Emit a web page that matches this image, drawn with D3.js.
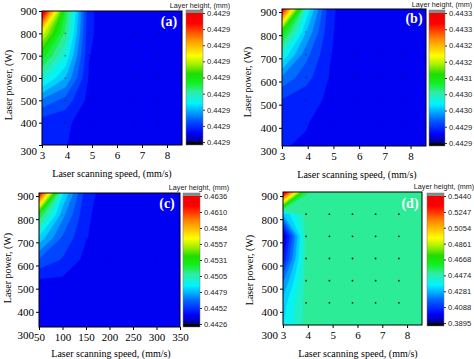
<!DOCTYPE html>
<html><head><meta charset="utf-8">
<script src="https://cdn.jsdelivr.net/npm/d3@7"></script>
<style>
html,body{margin:0;padding:0;background:#fff;}
svg{display:block;}
</style></head><body>
<svg id="chart" width="474" height="359"></svg>
<script>
// ---------------- data ----------------
const powers = [900, 800, 700, 600, 500, 400, 300];          // grid rows (W)
const speedsMm = [3, 3.93, 4.87, 5.8, 6.73, 7.67, 8.6];       // grid cols (mm/s) panels a,b,d
const speedsC = [50, 100, 150, 200, 250, 300, 350];           // grid cols (mm/s) panel c
const speedTicks = [3, 4, 5, 6, 7, 8];
const speedTicksC = [50, 100, 150, 200, 250, 300, 350];
const powerTicks = [300, 400, 500, 600, 700, 800, 900];

const heightA = [
  [0.44295, 0.442895, 0.442859, 0.442856, 0.442856, 0.442856, 0.442856],
  [0.442915, 0.44289, 0.442859, 0.442856, 0.442856, 0.442856, 0.442856],
  [0.442898, 0.442883, 0.4428585, 0.442856, 0.442856, 0.442856, 0.442856],
  [0.442885, 0.442875, 0.442858, 0.442856, 0.442856, 0.442856, 0.442856],
  [0.44287, 0.442865, 0.442857, 0.442856, 0.442856, 0.442856, 0.442856],
  [0.44286, 0.442859, 0.4428565, 0.442856, 0.442856, 0.442856, 0.442856],
  [0.442859, 0.4428585, 0.4428565, 0.442856, 0.442856, 0.442856, 0.442856]
];
const heightB = [
  [0.44328, 0.443032, 0.442936, 0.442924, 0.442924, 0.442924, 0.442924],
  [0.4431, 0.443, 0.4429352, 0.442924, 0.442924, 0.442924, 0.442924],
  [0.443032, 0.442972, 0.442934, 0.442924, 0.442924, 0.442924, 0.442924],
  [0.44298, 0.442956, 0.442932, 0.442924, 0.442924, 0.442924, 0.442924],
  [0.442948, 0.44294, 0.44293, 0.442924, 0.442924, 0.442924, 0.442924],
  [0.442936, 0.442934, 0.442928, 0.442924, 0.442924, 0.442924, 0.442924],
  [0.442934, 0.442932, 0.442928, 0.442924, 0.442924, 0.442924, 0.442924]
];
const heightC = [
  [0.46255, 0.4489, 0.4447, 0.44386, 0.44386, 0.44386, 0.44386],
  [0.45205, 0.44722, 0.44449, 0.44386, 0.44386, 0.44386, 0.44386],
  [0.44848, 0.44596, 0.44439, 0.44386, 0.44386, 0.44386, 0.44386],
  [0.44596, 0.44512, 0.44407, 0.44386, 0.44386, 0.44386, 0.44386],
  [0.44407, 0.44407, 0.44386, 0.44386, 0.44386, 0.44386, 0.44386],
  [0.44386, 0.44386, 0.44386, 0.44386, 0.44386, 0.44386, 0.44386],
  [0.44386, 0.44386, 0.44386, 0.44386, 0.44386, 0.44386, 0.44386]
];
const heightD = [
  [0.5440, 0.4544, 0.4498, 0.4498, 0.4498, 0.4498, 0.4498],
  [0.4281, 0.4498, 0.4498, 0.4498, 0.4498, 0.4498, 0.4498],
  [0.3910, 0.4498, 0.4498, 0.4498, 0.4498, 0.4498, 0.4498],
  [0.4019, 0.4498, 0.4498, 0.4498, 0.4498, 0.4498, 0.4498],
  [0.4204, 0.4498, 0.4498, 0.4498, 0.4498, 0.4498, 0.4498],
  [0.4312, 0.4498, 0.4498, 0.4498, 0.4498, 0.4498, 0.4498],
  [0.4343, 0.4498, 0.4498, 0.4498, 0.4498, 0.4498, 0.4498]
];
const rangeA = [0.44285, 0.44295];
const rangeB = [0.4429, 0.4433];
const rangeC = [0.4426, 0.4636];
const rangeD = [0.3895, 0.5440];
const cbLabelsA = ["0.4429","0.4429","0.4429","0.4429","0.4429","0.4429","0.4429","0.4429","0.4429"];
const cbLabelsB = ["0.4433","0.4433","0.4432","0.4432","0.4431","0.4430","0.4430","0.4429","0.4429"];
const cbLabelsC = ["0.4636","0.4610","0.4584","0.4557","0.4531","0.4505","0.4479","0.4452","0.4426"];
const cbLabelsD = ["0.5440","0.5247","0.5054","0.4861","0.4668","0.4474","0.4281","0.4088","0.3895"];
const panelTags = ["(a)", "(b)", "(c)", "(d)"];
const xTitle = "Laser scanning speed, (mm/s)";
const yTitle = "Laser power, (W)";
const cbTitle = "Layer height, (mm)";

// ---------------- style / layout ----------------
const cmapStops = [
  [0.00, "#00008c"], [0.07, "#0000ff"], [0.18, "#0064ff"], [0.30, "#00f4ff"],
  [0.39, "#30eca2"], [0.46, "#10f020"], [0.53, "#20dc00"], [0.60, "#a0f000"],
  [0.67, "#ffff00"], [0.80, "#ff8a00"], [0.92, "#ff0000"], [1.00, "#f00000"]
];
const cmap = d3.scaleLinear().domain(cmapStops.map(s => s[0])).range(cmapStops.map(s => s[1]))
  .interpolate(d3.interpolateRgb).clamp(true);

const SERIF = "'Liberation Serif','Times New Roman',serif";
const SANS = "'Liberation Sans',Arial,sans-serif";

const panels = [
  {z: heightA, range: rangeA, cb: cbLabelsA, speeds: speedsMm, ticks: speedTicks, tag: panelTags[0],
   plot: [42, 182, 11, 145], lab: null, bar: [186, 203, 10, 145], cbt: [200, 5], tagp: [169, 21], xt: [112, 173], yt: [8, 85], dots: 0.4},
  {z: heightB, range: rangeB, cb: cbLabelsB, speeds: speedsMm, ticks: speedTicks, tag: panelTags[1],
   plot: [282, 426, 9, 146], lab: [151, 12], bar: [429, 445, 10, 146], cbt: [442, 4], tagp: [414, 18], xt: [357, 174], yt: [247, 82], dots: 0.4},
  {z: heightC, range: rangeC, cb: cbLabelsC, speeds: speedsC, ticks: speedTicksC, tag: panelTags[2],
   plot: [39, 180, 193, 327], lab: [335, 196], bar: [183, 200, 193, 327], cbt: [199, 187], tagp: [167, 203], xt: [111, 353], yt: [7, 268], dots: 0.25},
  {z: heightD, range: rangeD, cb: cbLabelsD, speeds: speedsMm, ticks: speedTicks, tag: panelTags[3],
   plot: [283, 422, 192, 325], lab: [335, 196], bar: [427, 444, 193, 326], cbt: [444, 186], tagp: [410, 203], xt: [358, 353], yt: [249, 270], dots: 0.9}
];

const svg = d3.select("#chart");
const defs = svg.append("defs");
const grad = defs.append("linearGradient").attr("id", "cmapGrad")
  .attr("x1", 0).attr("y1", 1).attr("x2", 0).attr("y2", 0);
cmapStops.forEach(s => grad.append("stop").attr("offset", s[0]).attr("stop-color", s[1]));

panels.forEach((p, pi) => {
  const [x0, x1, y0, y1] = p.plot;
  const g = svg.append("g");
  const x = d3.scaleLinear().domain([p.speeds[0], p.speeds[p.speeds.length - 1]]).range([x0, x1]);
  const y = d3.scaleLinear().domain([powers[powers.length - 1], powers[0]]).range([y1, y0]);
  const yLab = p.lab ? d3.scaleLinear().domain([powers[powers.length - 1], powers[0]]).range(p.lab) : y;
  const [dmin, dmax] = p.range;
  const nLev = 24;
  const step = (dmax - dmin) / nLev;
  const thresholds = d3.range(nLev).map(k => dmin + k * step);
  const tcol = v => cmap((v - dmin) / (dmax - dmin));

  const clipId = "clip" + pi;
  defs.append("clipPath").attr("id", clipId).append("rect")
    .attr("x", x0).attr("y", y0).attr("width", x1 - x0).attr("height", y1 - y0);

  const nx = p.speeds.length, ny = powers.length;
  const flat = p.z.flat();
  const gx = d3.scaleLinear().domain([0.5, nx - 0.5]).range([x(p.speeds[0]), x(p.speeds[nx - 1])]);
  const gy = d3.scaleLinear().domain([0.5, ny - 0.5]).range([y(powers[0]), y(powers[ny - 1])]);
  const path = d3.geoPath(d3.geoTransform({point(px, py) { this.stream.point(gx(px), gy(py)); }}));
  const contours = d3.contours().size([nx, ny]).thresholds(thresholds)(flat);

  const cg = g.append("g").attr("clip-path", `url(#${clipId})`);
  cg.append("rect").attr("x", x0).attr("y", y0).attr("width", x1 - x0).attr("height", y1 - y0)
    .attr("fill", tcol(dmin + step / 2));
  cg.selectAll("path.band").data(contours).join("path")
    .attr("class", "band")
    .attr("d", path)
    .attr("fill", d => tcol(d.value + step / 2))
    .attr("stroke", d => tcol(d.value + step / 2))
    .attr("stroke-width", 0.4);

  // data points (interior grid nodes)
  const pts = [];
  for (let j = 1; j < ny - 1; j++) for (let i = 1; i < nx - 1; i++) pts.push([p.speeds[i], powers[j]]);
  cg.selectAll("circle").data(pts).join("circle")
    .attr("cx", d => x(d[0])).attr("cy", d => y(d[1])).attr("r", 0.9)
    .attr("fill", "#111").attr("opacity", p.dots);

  // frame
  g.append("rect").attr("x", x0).attr("y", y0).attr("width", x1 - x0).attr("height", y1 - y0)
    .attr("fill", "none").attr("stroke", "#000").attr("stroke-width", 1);

  // axes
  const xa = g.append("g").attr("transform", `translate(0,${y1})`)
    .call(d3.axisBottom(x).tickValues(p.ticks).tickSize(3).tickPadding(3).tickFormat(d3.format("d")));
  const ya = g.append("g").attr("transform", `translate(${x0},0)`)
    .call(d3.axisLeft(yLab).tickValues(powerTicks).tickSize(3).tickPadding(2).tickFormat(d3.format("d")));
  [xa, ya].forEach(a => {
    a.select(".domain").remove();
    a.selectAll("text").attr("font-family", SERIF).attr("font-size", 11).attr("fill", "#000");
    a.selectAll("line").attr("stroke", "#000");
  });
  ya.selectAll(".tick text").attr("dy", d => (!p.lab && d === 300) ? "0.9em" : "0.36em");
  ya.selectAll(".tick line").attr("display", d => (yLab(d) > y1 + 0.5 || yLab(d) < y0 - 0.5) ? "none" : null);

  // titles
  g.append("text").attr("x", p.xt[0]).attr("y", p.xt[1]).attr("text-anchor", "middle")
    .attr("dominant-baseline", "central").attr("font-family", SERIF).attr("font-size", 10).text(xTitle);
  g.append("text").attr("transform", `translate(${p.yt[0]},${p.yt[1]}) rotate(-90)`).attr("text-anchor", "middle")
    .attr("dominant-baseline", "central").attr("font-family", SERIF).attr("font-size", 10).text(yTitle);
  g.append("text").attr("x", p.tagp[0]).attr("y", p.tagp[1]).attr("text-anchor", "middle")
    .attr("dominant-baseline", "central").attr("font-family", SERIF).attr("font-size", 14)
    .attr("font-weight", "bold").attr("fill", "#fff").text(p.tag);

  // colour bar
  const [bx0, bx1, by0, by1] = p.bar;
  const cap = 3;
  g.append("rect").attr("x", bx0).attr("y", by0).attr("width", bx1 - bx0).attr("height", cap).attr("fill", "#8a8a8a");
  g.append("rect").attr("x", bx0).attr("y", by0 + cap).attr("width", bx1 - bx0).attr("height", by1 - by0 - 2 * cap)
    .attr("fill", "url(#cmapGrad)");
  g.append("rect").attr("x", bx0).attr("y", by1 - cap).attr("width", bx1 - bx0).attr("height", cap).attr("fill", "#000");
  g.append("rect").attr("x", bx0).attr("y", by0).attr("width", bx1 - bx0).attr("height", by1 - by0)
    .attr("fill", "none").attr("stroke", "#777").attr("stroke-width", 0.5);
  const cbs = d3.scaleLinear().domain([dmin, dmax]).range([by1 - cap, by0 + cap]);
  const cbVals = d3.range(p.cb.length).map(i => dmax - i * (dmax - dmin) / (p.cb.length - 1));
  const ca = g.append("g").attr("transform", `translate(${bx1},0)`)
    .call(d3.axisRight(cbs).tickValues(cbVals).tickSize(2).tickPadding(2).tickFormat((d, i) => p.cb[i]));
  ca.select(".domain").remove();
  ca.selectAll("text").attr("font-family", SANS).attr("font-size", 7.6).attr("fill", "#222");
  ca.selectAll("line").attr("stroke", "#333");
  g.append("text").attr("x", p.cbt[0]).attr("y", p.cbt[1]).attr("text-anchor", "middle")
    .attr("dominant-baseline", "central").attr("font-family", SANS).attr("font-size", 7.2).attr("fill", "#222")
    .text(cbTitle);
});
</script>
</body></html>
